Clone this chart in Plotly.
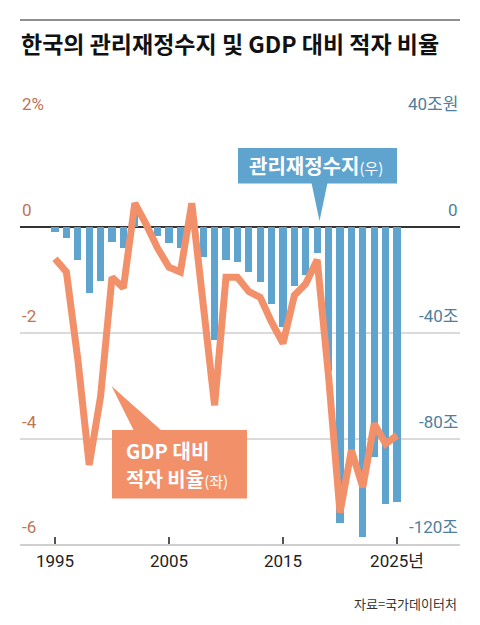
import plotly.graph_objects as go

# ---------------- data ----------------
years = [1995, 1996, 1997, 1998, 1999, 2000, 2001, 2002, 2003, 2004,
         2005, 2006, 2007, 2008, 2009, 2010, 2011, 2012, 2013, 2014,
         2015, 2016, 2017, 2018, 2019, 2020, 2021, 2022, 2023, 2024, 2025]
# managed fiscal balance (trillion won) - right axis
balance = [-2.1, -4.3, -12.6, -25.0, -20.4, -5.6, -8.1, 5.1, 1.0, -3.5,
           -6.2, -8.1, 3.6, -11.5, -43.0, -12.7, -13.4, -17.2, -21.0, -29.4,
           -37.8, -22.4, -18.3, -9.8, -54.6, -112.1, -90.0, -117.2, -87.0, -105.0, -104.2]
# deficit ratio to GDP (%) - left axis
ratio = [-0.6, -0.85, -2.5, -4.5, -3.2, -0.95, -1.15, 0.45, 0.05, -0.4,
         -0.76, -0.85, 0.45, -1.5, -3.37, -0.95, -0.95, -1.22, -1.33, -1.8,
         -2.2, -1.29, -1.07, -0.62, -2.83, -5.4, -4.22, -4.92, -3.72, -4.1, -3.94]

x_tick_vals = [1995, 2005, 2015, 2025]
x_tick_text = ["1995", "2005", "2015", "2025년"]
left_tick_vals = [2, 0, -2, -4, -6]
left_tick_text = ["2%", "0", "-2", "-4", "-6"]
right_tick_vals = [40, 0, -40, -80, -120]
right_tick_text = ["40조원", "0", "-40조", "-80조", "-120조"]

title_text = "한국의 관리재정수지 및 GDP 대비 적자 비율"
source_text = "자료=국가데이터처"

# ---------------- styling ----------------
W, H = 480, 625
PL, PR, PT, PB = 20, 460, 121.3, 544.3
BLUE = "#5FA4CF"
ORANGE = "#F2906A"
LEFT_COL = "#C07456"
RIGHT_COL = "#4F7F9C"
CJK = "Noto Sans CJK KR"
NUM = "Roboto, Noto Sans CJK KR, sans-serif"


def px(x):
    return x / W


def py(y):
    return 1 - y / H


fig = go.Figure()
fig.add_trace(go.Bar(x=years, y=balance, yaxis="y", marker_color=BLUE,
                     marker_line_width=0, width=0.64, hoverinfo="skip"))
fig.add_trace(go.Scatter(x=years, y=ratio, yaxis="y2", mode="lines",
                         line=dict(color=ORANGE, width=7), hoverinfo="skip"))

x0 = x_tick_vals[0] - (55 - PL) / 11.4
x1 = x_tick_vals[0] + (PR - 55) / 11.4

fig.update_layout(
    width=W, height=H,
    margin=dict(l=0, r=0, t=0, b=0, autoexpand=False),
    paper_bgcolor="white", plot_bgcolor="white",
    showlegend=False,
    bargap=0,
    xaxis=dict(domain=[px(PL), px(PR)], range=[x0, x1],
               tickvals=x_tick_vals, ticktext=x_tick_text,
               ticks="inside", ticklen=7, tickwidth=1.5, tickcolor="#555",
               showgrid=False, zeroline=False,
               showline=True, linecolor="#cfcfcf", linewidth=2,
               tickfont=dict(family=NUM, size=17, color="#222"),
               automargin=False),
    yaxis=dict(domain=[py(PB), py(PT)], range=[right_tick_vals[-1], right_tick_vals[0]],
               tickvals=[v for v in right_tick_vals if v not in (right_tick_vals[0], right_tick_vals[-1])],
               showticklabels=False, ticks="",
               showgrid=True, gridcolor="#dadada", gridwidth=2,
               zeroline=True, zerolinecolor="#333", zerolinewidth=1.5,
               automargin=False),
    yaxis2=dict(domain=[py(PB), py(PT)], overlaying="y",
                range=[left_tick_vals[-1], left_tick_vals[0]],
                showticklabels=False, showgrid=False, zeroline=False,
                automargin=False),
)

ann = []
# y tick labels as annotations (above gridlines)
for v, t in zip(left_tick_vals, left_tick_text):
    ann.append(dict(x=px(PL), xref="paper", y=v, yref="y2", text=t,
                    xanchor="left", yanchor="bottom", yshift=5, showarrow=False,
                    font=dict(family=NUM, size=17, color=LEFT_COL)))
for v, t in zip(right_tick_vals, right_tick_text):
    ann.append(dict(x=px(PR), xref="paper", y=v, yref="y", text=t,
                    xanchor="right", yanchor="bottom", yshift=5, showarrow=False,
                    font=dict(family=NUM, size=17, color=RIGHT_COL)))

# title and source
ann.append(dict(x=px(19), y=py(43), xref="paper", yref="paper", text="<b>" + title_text + "</b>",
                xanchor="left", yanchor="middle", showarrow=False,
                font=dict(family=CJK, size=23, color="#111")))
ann.append(dict(x=px(459), y=py(603), xref="paper", yref="paper", text=source_text,
                xanchor="right", yanchor="middle", showarrow=False,
                font=dict(family=CJK, size=13, color="#333")))

# blue callout text
ann.append(dict(x=px(316), y=py(165.5), xref="paper", yref="paper",
                text="<b>관리재정수지</b><span style='font-size:15px'>(우)</span>",
                xanchor="center", yanchor="middle", showarrow=False,
                font=dict(family=CJK, size=20, color="white")))
# orange callout text
ann.append(dict(x=px(124), y=py(450), xref="paper", yref="paper",
                text="<b>GDP 대비</b>",
                xanchor="left", yanchor="middle", showarrow=False,
                font=dict(family=CJK, size=20, color="white")))
ann.append(dict(x=px(124), y=py(478), xref="paper", yref="paper",
                text="<b>적자 비율</b><span style='font-size:15px'>(좌)</span>",
                xanchor="left", yanchor="middle", showarrow=False,
                font=dict(family=CJK, size=20, color="white")))

fig.update_layout(annotations=ann)


def path(points):
    s = "M " + " L ".join(f"{px(a):.5f},{py(b):.5f}" for a, b in points) + " Z"
    return s


shapes = [
    # top rule
    dict(type="line", xref="paper", yref="paper", x0=px(20), x1=px(460), y0=py(20), y1=py(20),
         line=dict(color="#8f8f8f", width=2)),
    # blue callout
    dict(type="rect", xref="paper", yref="paper", x0=px(238), x1=px(397), y0=py(148), y1=py(183.5),
         fillcolor=BLUE, line=dict(width=0), layer="above"),
    dict(type="path", xref="paper", yref="paper",
         path=path([(311.5, 183), (327.5, 183), (319.5, 221)]),
         fillcolor=BLUE, line=dict(width=0), layer="above"),
    # orange callout
    dict(type="rect", xref="paper", yref="paper", x0=px(112), x1=px(247), y0=py(430), y1=py(498.5),
         fillcolor=ORANGE, line=dict(width=0), layer="above"),
    dict(type="path", xref="paper", yref="paper",
         path=path([(111.5, 386), (134, 431), (162, 431)]),
         fillcolor=ORANGE, line=dict(width=0), layer="above"),
]
fig.update_layout(shapes=shapes)

fig.write_html("out.html")
